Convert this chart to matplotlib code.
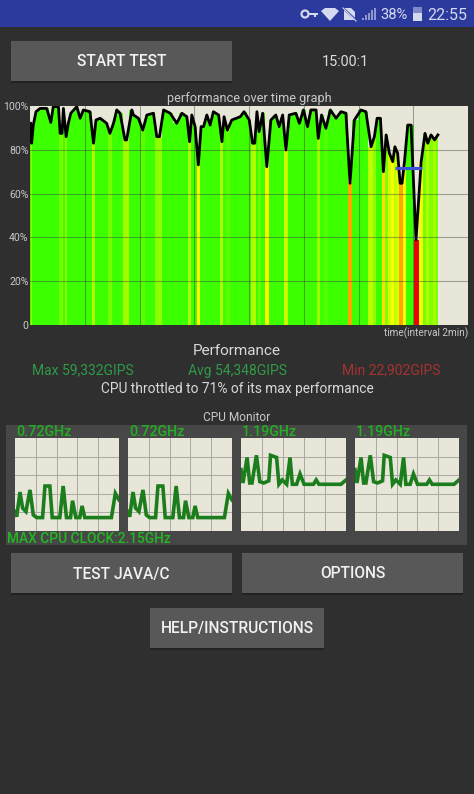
import numpy as np
import matplotlib
matplotlib.use("Agg")
import matplotlib.pyplot as plt
from matplotlib.colors import LinearSegmentedColormap
from matplotlib.patches import Rectangle, Polygon, Circle

plt.rcParams['font.family'] = ['Roboto', 'DejaVu Sans']

# rendimiento (minutos, %)
perf_time = [0.02, 0.06, 0.12, 0.22, 0.37, 0.61, 0.76, 0.85, 1.04, 1.10, 1.17, 1.22, 1.32, 1.40, 1.49, 1.71,
             1.83, 1.95, 2.19, 2.32, 2.41, 2.56, 2.80, 2.92, 3.05, 3.17, 3.29, 3.47, 3.53, 3.72, 3.78, 3.96,
             4.12, 4.27, 4.51, 4.63, 4.73, 4.88, 5.12, 5.36, 5.55, 5.73, 5.83, 5.91, 6.03, 6.15, 6.25, 6.34,
             6.46, 6.58, 6.70, 6.89, 7.01, 7.09, 7.21, 7.37, 7.68, 7.82, 8.01, 8.13, 8.21, 8.29, 8.37, 8.50,
             8.65, 8.80, 8.98, 9.10, 9.23, 9.35, 9.47, 9.71, 9.84, 9.99, 10.14, 10.26, 10.45, 10.53, 10.65,
             10.81, 10.97, 11.18, 11.36, 11.54, 11.69, 11.85, 12.09, 12.27, 12.46, 12.58, 12.68, 12.80, 12.91,
             13.01, 13.13, 13.25, 13.33, 13.43, 13.52, 13.59, 13.68, 13.80, 13.92, 14.10, 14.29, 14.43, 14.53,
             14.65, 14.78, 14.90]
perf_value = [92.1, 83.0, 91.3, 97.4, 98.9, 98.9, 92.5, 99.7, 99.7, 87.5, 87.5, 98.9, 86.0, 92.1, 96.7, 99.7,
              94.4, 98.2, 97.4, 83.0, 93.6, 94.4, 92.1, 87.5, 92.1, 98.2, 96.7, 84.5, 84.5, 98.2, 95.9, 94.4,
              89.0, 95.9, 96.7, 86.0, 86.0, 98.2, 96.7, 92.1, 96.7, 95.1, 83.7, 95.9, 90.6, 73.1, 90.6, 90.6,
              95.9, 91.3, 97.4, 95.9, 83.7, 95.1, 89.0, 93.6, 95.1, 97.4, 93.6, 83.0, 83.0, 97.4, 88.3, 96.7,
              72.3, 93.6, 95.9, 90.6, 95.9, 79.9, 95.9, 96.7, 92.1, 98.2, 90.6, 98.2, 98.2, 85.2, 95.9,
              89.8, 98.2, 94.4, 97.4, 96.7, 64.7, 93.6, 98.2, 97.4, 81.4, 86.0, 94.4, 94.4, 70.0,
              86.8, 78.4, 74.6, 81.4, 78.4, 64.7, 64.7, 74.6, 91.3, 91.3, 38.8, 74.6, 87.5, 83.0,
              86.8, 84.5, 86.8]
avg_line_time = [13.35, 14.32]
avg_line_value = [71.7, 71.7]

y_ticks = [0, 20, 40, 60, 80, 100]
y_labels = ['0', '20%', '40%', '60%', '80%', '100%']
x_ticks = [2, 4, 6, 8, 10, 12, 14]

# frecuencias de los nucleos (eje 0-100 de la ventana, GHz)
cpu_low_time = [0, 1.6, 4.8, 7.3, 10.5, 14.4, 17.6, 20.8, 26.5, 28.8, 33.5, 35.8, 43.1, 46.3, 49.5, 53.4, 55.3,
                58.5, 62.3, 64.5, 67.1, 92.7, 96.5, 100]
cpu_low_ghz = [0.45, 0.33, 0.90, 0.53, 0.45, 0.95, 0.37, 0.31, 0.31, 1.04, 1.04, 0.31, 0.31, 1.04, 0.31, 0.31, 0.70,
               0.31, 0.31, 0.58, 0.31, 0.31, 0.87, 0.72]
cpu_high_time = [0, 1.9, 5.8, 8.3, 10.5, 14.7, 17.9, 21.7, 26.5, 28.1, 33.9, 36.1, 39.3, 43.5, 46.7, 48.9, 53, 56.2,
                 60.1, 69, 71.6, 74.2, 95.2, 100]
cpu_high_ghz = [1.42, 1.11, 1.70, 1.11, 1.11, 1.75, 1.14, 1.11, 1.16, 1.75, 1.70, 1.08, 1.18, 1.08, 1.70, 1.08, 1.08,
                1.32, 1.08, 1.08, 1.18, 1.08, 1.08, 1.18]
cpu_labels = ['0.72GHz', '0.72GHz', '1.19GHz', '1.19GHz']
cpu_series = [(cpu_low_time, cpu_low_ghz), (cpu_low_time, cpu_low_ghz),
              (cpu_high_time, cpu_high_ghz), (cpu_high_time, cpu_high_ghz)]
cpu_boxes = [(15, 119), (128, 232), (241, 346), (355, 459)]

W, H = 474, 794
BG = '#2f2f2f'
PAPER = '#e8e6d8'
TXT = '#c9c9c9'
GREEN = '#22b022'

fig = plt.figure(figsize=(W / 100, H / 100), dpi=100, facecolor=BG)

# capa de fondo en pixeles
bg = fig.add_axes([0, 0, 1, 1])
bg.set_xlim(0, W)
bg.set_ylim(H, 0)
bg.axis('off')


def px_axes(x0, x1, y0, y1):
    return fig.add_axes([x0 / W, 1 - y1 / H, (x1 - x0) / W, (y1 - y0) / H])


def button(x0, x1, y0, y1, label):
    bg.add_patch(Rectangle((x0, y0 + 1), x1 - x0, y1 - y0 + 1, color='#222222', lw=0))
    bg.add_patch(Rectangle((x0, y0), x1 - x0, y1 - y0, color='#585858', lw=0))
    bg.text((x0 + x1) / 2, (y0 + y1) / 2 + 1, label, color='#f2f2f2', fontsize=11.2, weight='medium',
            ha='center', va='center')


# barra de estado
bg.add_patch(Rectangle((0, 0), W, 27, color='#2b3a9c', lw=0))
ST = '#d5d9f0'
bg.add_patch(Circle((305, 14), 3.5, fc='none', ec=ST, lw=1.6))
bg.add_patch(Rectangle((308, 12.5), 10, 2.5, color=ST, lw=0))
bg.add_patch(Rectangle((314, 14), 1.8, 3, color=ST, lw=0))
bg.add_patch(Polygon([[321, 11], [325, 8], [335, 8], [339, 11], [330, 21]], color=ST, lw=0))
bg.add_patch(Polygon([[344, 8], [351, 8], [355, 12], [355, 20], [344, 20]], color=ST, lw=0))
bg.plot([342, 357], [7, 21], color='#2b3a9c', lw=1.4)
bg.plot([343, 356], [8, 21], color=ST, lw=0.8)
for i, sx in enumerate(range(362, 375, 3)):
    bg.add_patch(Rectangle((sx, 20 - 2.5 * (i + 1)), 1.8, 2.5 * (i + 1), color='#8f97cf', lw=0))
bg.text(380, 15, '38%', color=ST, fontsize=10.6, va='center', ha='left')
bg.add_patch(Rectangle((413, 7), 9, 14, color='#7f88c8', lw=0))
bg.add_patch(Rectangle((413, 13), 9, 8, color=ST, lw=0))
bg.text(467, 15, '22:55', color=ST, fontsize=11.5, va='center', ha='right')

button(11, 232, 41, 81, 'START TEST')
bg.text(345, 62.5, '15:00:1', color='#dddddd', fontsize=10.4, ha='center', va='center')
bg.text(249, 98.5, 'performance over time graph', color=TXT, fontsize=9.2, ha='center', va='center')

# grafico principal
ax = px_axes(30, 468, 106, 325)
ax.set_facecolor(PAPER)
ax.set_xlim(0, 16)
ax.set_ylim(0, 100)

band_cmap = LinearSegmentedColormap.from_list('perf', [(0, '#e80000'), (27 / 62, '#ffa800'), (35 / 62, '#ffff00'),
                                                       (47 / 62, '#a0ff00'), (53 / 62, '#3cff00'), (1, '#3cff00')])
t = np.array(perf_time)
v = np.array(perf_value)
edges = np.concatenate([[0], (t[:-1] + t[1:]) / 2, [t[-1]]])
ax.bar(edges[:-1], v, width=np.diff(edges), align='edge', color=band_cmap((v - 38) / 62), lw=0, zorder=1)

for y in y_ticks[1:-1]:
    ax.axhline(y, color='#404040', lw=0.8, alpha=0.45, zorder=2)
for x in x_ticks:
    ax.axvline(x, color='#404040', lw=0.8, alpha=0.45, zorder=2)

ax.plot(perf_time, perf_value, color='black', lw=2.0, solid_joinstyle='round', zorder=3)
ax.plot(avg_line_time, avg_line_value, color='#3f51d9', lw=2.2, zorder=4, solid_capstyle='butt')

ax.set_yticks(y_ticks)
ax.set_yticklabels(y_labels)
ax.set_xticks([])
ax.tick_params(axis='y', length=0, pad=1, labelsize=7.6, labelcolor=TXT)
for s in ax.spines.values():
    s.set_visible(False)

bg.text(468, 333, 'time(interval 2min)', color=TXT, fontsize=7.2, ha='right', va='center')

# resumen
bg.text(237, 351, 'Performance', color='#d8d8d8', fontsize=11, ha='center', va='center')
bg.text(32, 370.5, 'Max 59,332GIPS', color='#2f9a48', fontsize=10, ha='left', va='center')
bg.text(188, 370.5, 'Avg 54,348GIPS', color='#2f9a48', fontsize=10, ha='left', va='center')
bg.text(342, 370.5, 'Min 22,902GIPS', color='#a83232', fontsize=10, ha='left', va='center')
bg.text(237, 389.5, 'CPU throttled to 71% of its max performance', color='#d8d8d8', fontsize=9.9,
        ha='center', va='center')
bg.text(237, 417.5, 'CPU Monitor', color=TXT, fontsize=8.6, ha='center', va='center')

# monitores de CPU
bg.add_patch(Rectangle((6, 425), 461, 120, color='#474747', lw=0))
for (x0, x1), (ct, cg), lab in zip(cpu_boxes, cpu_series, cpu_labels):
    a = px_axes(x0, x1, 438, 531)
    a.set_facecolor(PAPER)
    a.set_xlim(0, 100)
    a.set_ylim(0, 2.15)
    a.set_xticks([20, 40, 60, 80])
    a.set_yticks(np.arange(1, 5) * 2.15 / 5)
    a.grid(True, color='#aaaaa2', lw=0.7)
    a.set_axisbelow(True)
    a.tick_params(length=0, labelbottom=False, labelleft=False)
    for s in a.spines.values():
        s.set_visible(False)
    a.plot(ct, cg, color='#1c7d1c', lw=2.6, solid_joinstyle='miter', clip_on=True)
    bg.text(x0 + 1, 432, lab, color=GREEN, fontsize=10.3, weight='medium', ha='left', va='center')

bg.text(7, 539, 'MAX CPU CLOCK:2.15GHz', color='#22b822', fontsize=9.9, weight='medium', ha='left', va='center')

button(11, 232, 553, 593, 'TEST JAVA/C')
button(242, 463, 553, 593, 'OPTIONS')
button(150, 324, 608, 648, 'HELP/INSTRUCTIONS')

fig.savefig('out.png', dpi=100, facecolor=BG)
